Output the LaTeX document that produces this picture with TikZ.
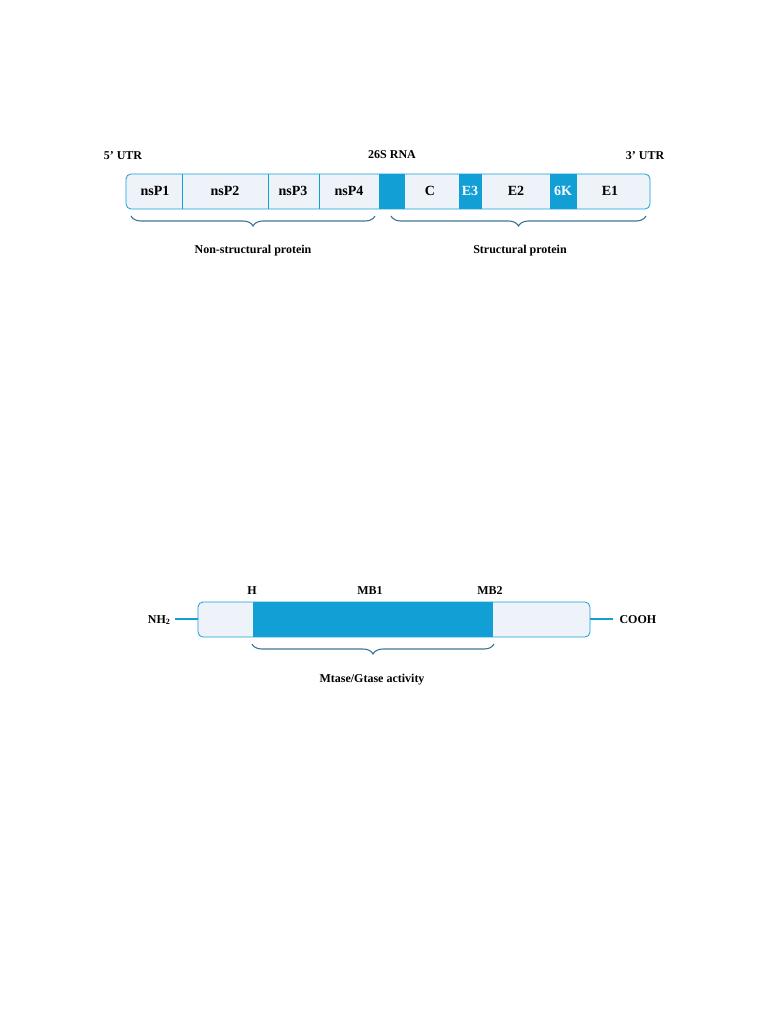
\documentclass[tikz,border=0pt]{standalone}
\usepackage{fontspec}
\setmainfont{Liberation Serif}
\usetikzlibrary{decorations.pathreplacing}
\definecolor{bl}{HTML}{119FD6}
\definecolor{lf}{HTML}{EEF3FA}
\definecolor{br}{HTML}{3D7494}
\begin{document}
\begin{tikzpicture}[x=1pt,y=-1pt,
 seg/.style={draw=bl,fill=lf,line width=0.8pt},
 lab/.style={font=\bfseries\fontsize{14}{16}\selectfont},
 wlab/.style={font=\bfseries\fontsize{14}{16}\selectfont,text=white},
 small/.style={font=\bfseries\fontsize{12}{14}\selectfont},
 brc/.style={draw=br,line width=1.1pt,decoration={brace,mirror,amplitude=10pt},decorate}]
\useasboundingbox (0,0) rectangle (768,1024);
% top bar
\draw[seg,rounded corners=5pt] (126,174) rectangle (650,209);
\fill[bl] (379,174.4) rectangle (405,208.6);
\fill[bl] (459,174.4) rectangle (482,208.6);
\fill[bl] (550,174.4) rectangle (577,208.6);
\foreach \x in {182,268,319} \draw[bl,line width=0.8pt] (\x,174) -- (\x,209);
\node[lab] (p1) at (155,191) {nsP1};
\node[lab] (p2) at (225,191) {nsP2};
\node[lab] (p3) at (293,191) {nsP3};
\node[lab] (p4) at (349,191) {nsP4};
\node[lab] (c) at (430,191) {C};
\node[wlab] (e3) at (470,191) {E3};
\node[lab] (e2) at (516,191) {E2};
\node[wlab] (k6) at (563,191) {6K};
\node[lab] (e1) at (610,191) {E1};
\node[small] (u5) at (123,156) {5’ UTR};
\node[small] (r26) at (392,155) {26S RNA};
\node[small] (u3) at (645,156) {3’ UTR};
\coordinate (b1a) at (131,216); \coordinate (b1b) at (375,216);
\coordinate (b2a) at (391,216); \coordinate (b2b) at (646,216);
\draw[brc] (b1a) -- (b1b);
\draw[brc] (b2a) -- (b2b);
\node[small] (ns) at (253,251) {Non-structural protein};
\node[small] (st) at (520,251) {Structural protein};
% bottom bar
\draw[seg,rounded corners=5pt] (198,602) rectangle (590,637);
\fill[bl] (253,602.4) rectangle (493,636.6);
\coordinate (nl) at (175,619); \coordinate (nr) at (198,619);
\coordinate (cl) at (590,619); \coordinate (cr) at (613,619);
\draw[bl,line width=2.5pt] (nl) -- (nr);
\draw[bl,line width=2.5pt] (cl) -- (cr);
\node[small,anchor=east] (nh) at (174,620) {NH\textsubscript{2}};
\node[small,anchor=west] (co) at (616,620) {COOH};
\node[small] (h) at (252,591) {H};
\node[small] (m1) at (370,591) {MB1};
\node[small] (m2) at (490,591) {MB2};
\coordinate (b3a) at (252,644); \coordinate (b3b) at (494,644);
\draw[brc] (b3a) -- (b3b);
\node[small] (mt) at (372,680) {Mtase/Gtase activity};
\end{tikzpicture}
\end{document}
